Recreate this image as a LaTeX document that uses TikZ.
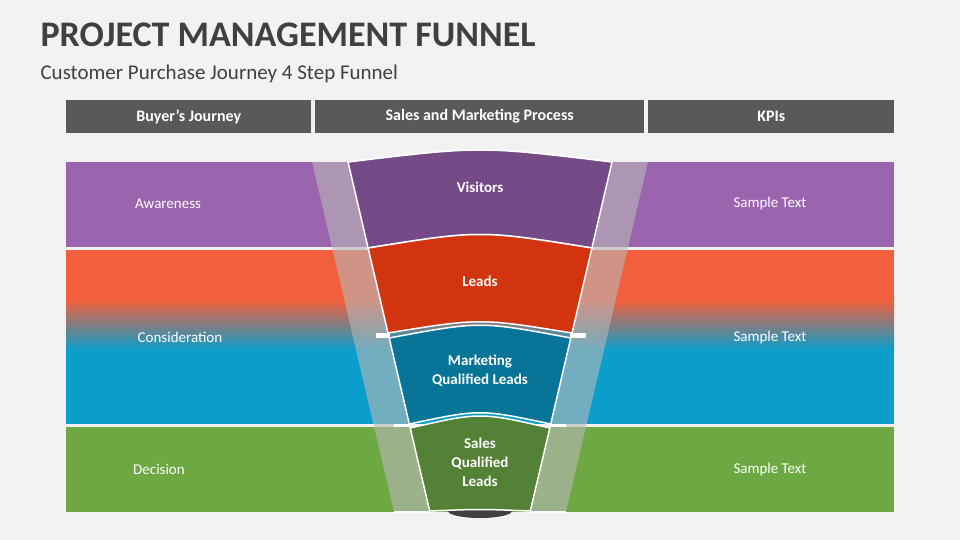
\documentclass[tikz,border=0pt]{standalone}
\usepackage{fontspec}
\setmainfont{Carlito}
\definecolor{bg}{HTML}{F2F2F2}
\definecolor{hdr}{HTML}{595959}
\definecolor{ttl}{HTML}{404040}
\definecolor{bpur}{HTML}{9B64AE}
\definecolor{bora}{HTML}{F25F3C}
\definecolor{bblu}{HTML}{0B9ECD}
\definecolor{bgrn}{HTML}{6DA843}
\definecolor{fpur}{HTML}{744A87}
\definecolor{fora}{HTML}{D2340F}
\definecolor{fblu}{HTML}{087497}
\definecolor{fgrn}{HTML}{538135}
\definecolor{strip}{HTML}{B8B8B8}
\begin{document}
\begin{tikzpicture}[x=1pt,y=-1pt,
  hbox/.style={fill=hdr,minimum height=33pt,anchor=north west,inner sep=0pt,text=white,font=\bfseries\fontsize{16}{19}\selectfont},
  blab/.style={text=white,font=\fontsize{15}{18}\selectfont},
  flab/.style={text=white,font=\bfseries\fontsize{15}{19}\selectfont,align=center},
  seg/.style={draw=white,line width=1.5pt},
  stripst/.style={fill=strip,fill opacity=0.6}]
\fill[bg] (0,0) rectangle (960,540);
\useasboundingbox (0,0) rectangle (960,540);
\node[anchor=west,text=ttl,font=\bfseries\fontsize{36}{40}\selectfont] (title) at (37,35) {PROJECT MANAGEMENT FUNNEL};
\node[anchor=west,text=ttl,font=\fontsize{21}{25}\selectfont] (sub) at (37,74) {Customer Purchase Journey 4 Step Funnel};
\node[hbox,minimum width=245pt] (h1) at (66,100) {Buyer’s Journey};
\node[hbox,minimum width=329pt] (h2) at (315,100) {Sales and Marketing Process};
\node[hbox,minimum width=246pt] (h3) at (648,100) {KPIs};
% bands
\fill[bpur] (66,162) rectangle (894,247);
\fill[bora] (66,250) rectangle (894,300);
\shade[top color=bora,bottom color=bblu,middle color=bora!50!bblu!80!gray] (66,300) rectangle (894,350);
\fill[bblu] (66,350) rectangle (894,424);
\fill[bgrn] (66,427) rectangle (894,512);
% strips
\fill[stripst] (312,162) -- (348,162) -- (430,512) -- (394,512) -- cycle;
\fill[stripst] (648,162) -- (612,162) -- (530,512) -- (566,512) -- cycle;
\fill[white] (376,333) rectangle (390,338);
\fill[white] (570,333) rectangle (586,338);
\fill[white] (394,424) rectangle (410,427);
\fill[white] (550,424) rectangle (566,427);
% funnel
\fill[ttl] (480,511) ellipse (32pt and 7pt);
\draw[seg,fill=fpur] (348,162) .. controls (480,146) .. (612,162) -- (591.9,248) .. controls (480,230) .. (368.1,248) -- cycle;
\draw[seg,fill=fora] (368.1,248) .. controls (480,230) .. (591.9,248) -- (572,333) .. controls (480,318) .. (388,333) -- cycle;
\draw[seg,fill=fblu] (389.2,338) .. controls (480,321) .. (570.8,338) -- (550.7,424) .. controls (480,409) .. (409.3,424) -- cycle;
\draw[seg,fill=fgrn] (410.2,428) .. controls (480,412) .. (549.8,428) -- (530.3,511) .. controls (480,509) .. (429.7,511) -- cycle;
\draw[white,line width=1.5pt] (394,512) -- (430,512) (530,512) -- (566,512);
\node[flab] (f1) at (480,187) {Visitors};
\node[flab] (f2) at (480,281) {Leads};
\node[flab] (f3) at (480,371) {Marketing\\Qualified Leads};
\node[flab] (f4) at (480,462) {Sales\\Qualified\\Leads};
\node[blab] (l1) at (168,204) {Awareness};
\node[blab] (l2) at (180,337) {Consideration};
\node[blab] (l3) at (159,469) {Decision};
\node[blab] (r1) at (770,204) {Sample Text};
\node[blab] (r2) at (770,337) {Sample Text};
\node[blab] (r3) at (770,469) {Sample Text};
\end{tikzpicture}
\end{document}
